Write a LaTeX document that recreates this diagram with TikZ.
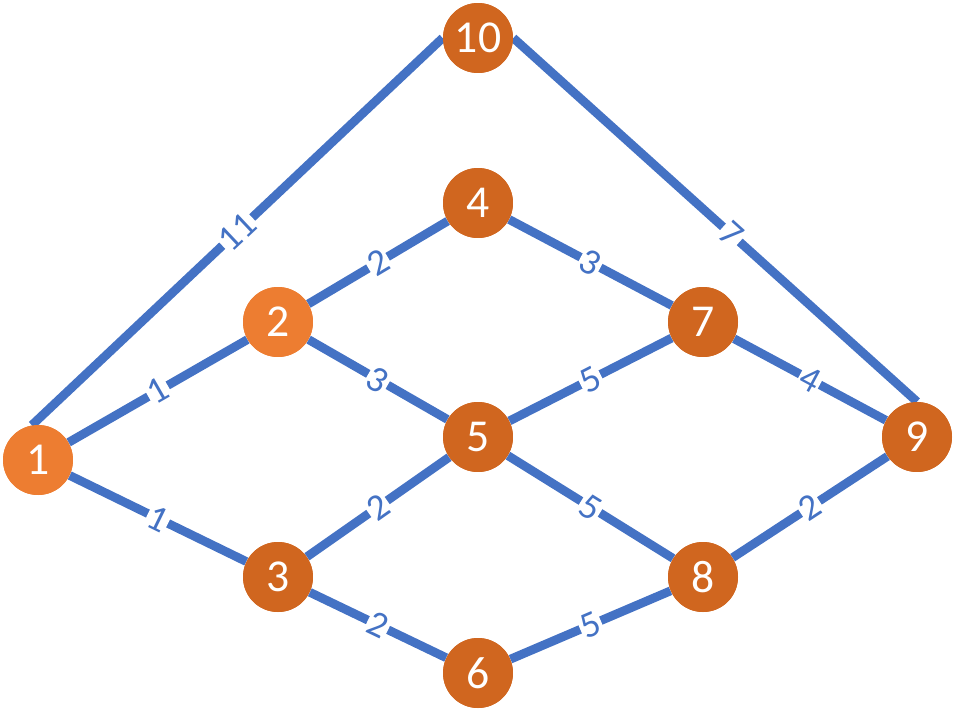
\documentclass[tikz,border=0pt]{standalone}
\usepackage{fontspec}
\setmainfont{Carlito}
\definecolor{edgeblue}{HTML}{4472C4}
\definecolor{lightorange}{HTML}{ED7D31}
\definecolor{darkorange}{HTML}{D0661F}
\begin{document}
\begin{tikzpicture}[x=0.02cm, y=-0.02cm,
  vertex/.style={circle, fill=darkorange, text=white, minimum size=1.4cm, inner sep=0pt, font=\fontsize{26}{26}\selectfont},
  startvertex/.style={vertex, fill=lightorange},
  road/.style={edgeblue, line width=5pt},
  cost/.style={sloped, fill=white, text=edgeblue, inner sep=1pt, font=\fontsize{21}{21}\selectfont}]
\useasboundingbox (0,0) rectangle (957,727);
% nodes
\node[startvertex] (n1) at (38,460) {1};
\node[startvertex] (n2) at (278,322) {2};
\node[vertex] (n3) at (278,577) {3};
\node[vertex] (n4) at (478,203) {4};
\node[vertex] (n5) at (478,437) {5};
\node[vertex] (n6) at (478,673) {6};
\node[vertex] (n7) at (703,322) {7};
\node[vertex] (n8) at (703,577) {8};
\node[vertex] (n9) at (917,437) {9};
\node[vertex] (n10) at (478,38) {10};
% edges
\draw[road] (n1.100) -- node[cost, pos=0.5] {11} (n10.west);
\draw[road] (n10.east) -- node[cost, pos=0.54] {7} (n9.north);
\draw[road] (n1) -- node[cost] {1} (n2);
\draw[road] (n1) -- node[cost] {1} (n3);
\draw[road] (n2) -- node[cost] {2} (n4);
\draw[road] (n2) -- node[cost] {3} (n5);
\draw[road] (n3) -- node[cost] {2} (n5);
\draw[road] (n3) -- node[cost] {2} (n6);
\draw[road] (n4) -- node[cost] {3} (n7);
\draw[road] (n5) -- node[cost] {5} (n7);
\draw[road] (n5) -- node[cost] {5} (n8);
\draw[road] (n6) -- node[cost] {5} (n8);
\draw[road] (n7) -- node[cost] {4} (n9);
\draw[road] (n8) -- node[cost] {2} (n9);
% redraw vertices on top
\foreach \v/\t/\s in {n1/1/startvertex,n2/2/startvertex,n3/3/vertex,n4/4/vertex,n5/5/vertex,n6/6/vertex,n7/7/vertex,n8/8/vertex,n9/9/vertex,n10/10/vertex}
  \node[\s] at (\v) {\t};
\end{tikzpicture}
\end{document}
